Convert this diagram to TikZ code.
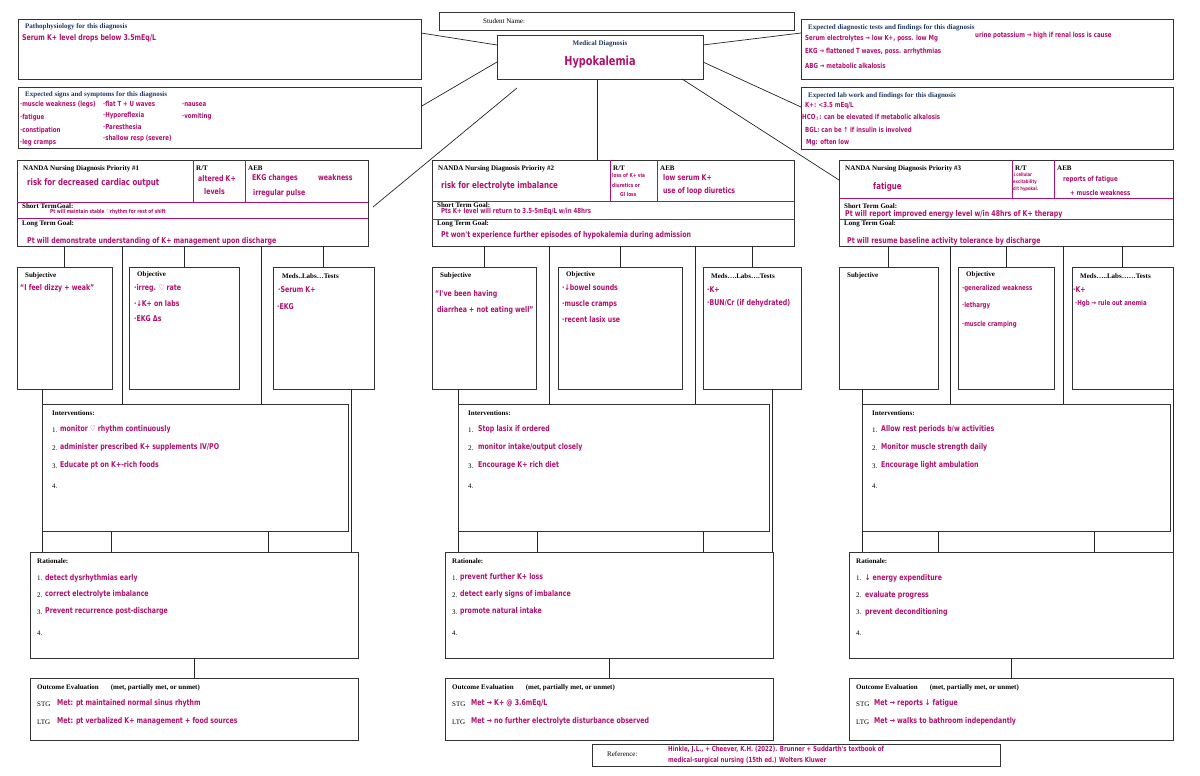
\documentclass[tikz,border=0pt]{standalone}
\usepackage{fontspec}
\setmainfont{Liberation Serif}
\newfontfamily\hand[FakeStretch=0.78]{DejaVu Sans}
\newcommand\hrt{{\mdseries ♡}}
\definecolor{ink}{RGB}{176,16,110}
\definecolor{navy}{RGB}{31,56,100}
\begin{document}
\begin{tikzpicture}[x=1pt,y=-1pt,
 box/.style={draw=black!80,line width=.9pt,fill=white,anchor=north west,inner sep=0pt,outer sep=0pt},
 line/.style={draw=black!85,line width=.7pt},
 div/.style={draw=ink,line width=.9pt},
 lab/.style={font=\bfseries\fontsize{7}{8}\selectfont,anchor=west,inner sep=0pt},
 hd/.style={lab,text=navy},
 num/.style={font=\fontsize{7}{8}\selectfont,anchor=west,inner sep=0pt},
 hand/.style={font=\hand\bfseries\fontsize{8}{9}\selectfont,text=ink,anchor=west,inner sep=0pt},
 hands/.style={hand,font=\hand\bfseries\fontsize{7}{8}\selectfont},
 handt/.style={hand,font=\hand\bfseries\fontsize{5.5}{6}\selectfont}]
\useasboundingbox[fill=white] (0,0) rectangle (1200,776);

% top row
\node[box,minimum width=403,minimum height=60] (patho) at (18,19) {};
\node[box,minimum width=403,minimum height=61] (signs) at (18,87) {};
\node[box,minimum width=355,minimum height=18] (student) at (439,12) {};
\node[box,minimum width=206,minimum height=44] (md) at (497,35) {};
\node[box,minimum width=372,minimum height=60] (diag) at (801,19) {};
\node[box,minimum width=372,minimum height=62] (labs) at (801,87) {};

\node[num] (stname) at (483,21) {Student Name:};
\node[hd,anchor=center] (mdt) at (600,44) {Medical Diagnosis};
\node[hand,anchor=center,font=\hand\bfseries\fontsize{12.5}{14}\selectfont] (mdx) at (600,62) {Hypokalemia};

\node[hd] (pathot) at (25,27) {Pathophysiology for this diagnosis};
\node[hand] (patho1) at (22,38) {Serum K+ level drops below 3.5mEq/L};
\node[hd] (signst) at (25,95) {Expected signs and symptoms for this diagnosis};
\foreach \t [count=\i] in {{·muscle weakness (legs)},·fatigue,·constipation,{·leg cramps}}
  \node[hands] (sa\i) at (20,92+12.7*\i) {\t};
\foreach \t [count=\i] in {{·flat T + U waves},·Hyporeflexia,·Paresthesia,{·shallow resp (severe)}}
  \node[hands] (sb\i) at (103,93+11.3*\i) {\t};
\node[hands] (sc1) at (182,105) {·nausea};
\node[hands] (sc2) at (182,117) {·vomiting};

\node[hd] (diagt) at (808,28) {Expected diagnostic tests and findings for this diagnosis};
\node[hands] (dg1) at (805,39) {Serum electrolytes → low K+, poss. low Mg};
\node[hands] (dg2) at (805,52) {EKG → flattened T waves, poss. arrhythmias};
\node[hands] (dg3) at (805,66) {ABG → metabolic alkalosis};
\node[hands] (dg4) at (975,36) {urine potassium → high if renal loss is cause};
\node[hd] (labst) at (808,96) {Expected lab work and findings for this diagnosis};
\node[hands] (lb1) at (805,106) {K+: <3.5 mEq/L};
\node[hands] (lb2) at (802,117) {HCO$_3$: can be elevated if metabolic alkalosis};
\node[hands] (lb3) at (805,130) {BGL: can be ↑ if insulin is involved};
\node[hands] (lb4) at (806,143) {Mg: often low};

% NANDA boxes
\foreach \c/\x/\w/\rt/\ae/\da/\db in {1/17/351/193/245/202/218,2/432/362/610/657/201/219,3/839/334/1012/1054/198/219}{
  \node[box,minimum width=\w,minimum height=86] (n\c) at (\x,160) {};
  \draw[div] (\rt,160) -- (\rt,\da);
  \draw[div] (\ae,160) -- (\ae,\da);
  \draw[div] (\x,\da) -- (\x+\w,\da);
  \draw[div] (\x,\db) -- (\x+\w,\db);
  \node[lab] (nt\c) at (\x+6,169) {NANDA Nursing Diagnosis Priority \#\c};
  \node[lab] (rt\c) at (\rt+3,168) {R/T};
  \node[lab] (aeb\c) at (\ae+3,168) {AEB};
  \node[lab] (lg\c) at (\x+5,224) {Long Term Goal:};
}
\node[lab] (sg1) at (22,206) {Short TermGoal:};
\node[lab] (sg2) at (437,205) {Short Term Goal:};
\node[lab] (sg3) at (844,206) {Short Term Goal:};

\draw[line] ([shift={(0,10)}]md.north west) -- ([shift={(0,-16)}]patho.east);
\draw[line] ([shift={(0,-17)}]md.south west) -- ([shift={(0,-11)}]signs.east);
\draw[line] ([shift={(0,10)}]md.north east) -- ([shift={(0,-16)}]diag.west);
\draw[line] ([shift={(0,-17)}]md.south east) -- ([shift={(0,-11)}]labs.west);
\draw[line] ([shift={(20,9)}]md.south west) -- ([shift={(5,4)}]n1.east);
\draw[line] ([shift={(-3,0)}]md.south) -- ([shift={(-3,0)}]md.south |- n2.north);
\draw[line] ([shift={(-21,0)}]md.south east) -- ([shift={(0,-23)}]n3.west);

\node[hand,font=\hand\bfseries\fontsize{9}{10}\selectfont] (dx1) at (27,183) {risk for decreased cardiac output};
\node[hand] (rt1a) at (198,179) {altered K+};
\node[hand] (rt1b) at (204,192) {levels};
\node[hand] (ae1a) at (252,178) {EKG changes};
\node[hand] (ae1b) at (318,178) {weakness};
\node[hand] (ae1c) at (253,193) {irregular pulse};
\node[handt] (st1) at (50,212) {Pt will maintain stable \hrt rhythm for rest of shift};
\node[hand] (lt1) at (27,241) {Pt will demonstrate understanding of K+ management upon discharge};

\node[hand,font=\hand\bfseries\fontsize{9}{10}\selectfont] (dx2) at (441,186) {risk for electrolyte imbalance};
\node[handt] (rt2a) at (612,175) {loss of K+ via};
\node[handt] (rt2b) at (612,185) {diuretics or};
\node[handt] (rt2c) at (620,194) {GI loss};
\node[hand] (ae2a) at (663,178) {low serum K+};
\node[hand] (ae2b) at (663,191) {use of loop diuretics};
\node[hands] (st2) at (441,212) {Pts K+ level will return to 3.5-5mEq/L w/in 48hrs};
\node[hand] (lt2) at (441,235) {Pt won't experience further episodes of hypokalemia during admission};

\node[hand,font=\hand\bfseries\fontsize{9}{10}\selectfont] (dx3) at (873,187) {fatigue};
\node[handt,font=\hand\bfseries\fontsize{4.8}{5}\selectfont] (rt3a) at (1013,175) {↓cellular};
\node[handt,font=\hand\bfseries\fontsize{4.8}{5}\selectfont] (rt3b) at (1013,182) {excitability};
\node[handt,font=\hand\bfseries\fontsize{4.8}{5}\selectfont] (rt3c) at (1013,189) {d/t hypokal.};
\node[hands] (ae3a) at (1063,180) {reports of fatigue};
\node[hands] (ae3b) at (1070,193) {+ muscle weakness};
\node[hand] (st3) at (845,214) {Pt will report improved energy level w/in 48hrs of K+ therapy};
\node[hand] (lt3) at (847,241) {Pt will resume baseline activity tolerance by discharge};

% subjective / objective / meds
\foreach \c/\sx/\sw/\ox/\ow/\mx/\mw in {1/17/95/129/110/273/101,2/432/104/558/124/703/98,3/839/99/958/96/1072/101}{
  \node[box,minimum width=\sw,minimum height=122] (s\c) at (\sx,267) {};
  \node[box,minimum width=\ow,minimum height=122] (o\c) at (\ox,267) {};
  \node[box,minimum width=\mw,minimum height=122] (m\c) at (\mx,267) {};
  \draw[line] (s\c.north) -- (s\c.north |- n\c.south);
  \draw[line] (o\c.north) -- (o\c.north |- n\c.south);
  \draw[line] (m\c.north) -- (m\c.north |- n\c.south);
  \node[lab] (sl\c) at (\sx+8,276) {Subjective};
  \node[lab] (ol\c) at (\ox+8,275) {Objective};
}
\node[lab] (ml1) at (282,276) {Meds..Labs…Tests};
\node[lab] (ml2) at (711,276) {Meds….Labs….Tests};
\node[lab] (ml3) at (1080,276) {Meds…..Labs……Tests};

\node[hand] (sj1) at (20,288) {“I feel dizzy + weak”};
\node[hand] (ob1a) at (134,288) {·irreg. \hrt\ rate};
\node[hand] (ob1b) at (134,304) {·↓K+ on labs};
\node[hand] (ob1c) at (134,319) {·EKG Δs};
\node[hand] (md1a) at (278,290) {·Serum K+};
\node[hand] (md1b) at (277,307) {·EKG};

\node[hand] (sj2a) at (435,294) {“I've been having};
\node[hand] (sj2b) at (437,310) {diarrhea + not eating well”};
\node[hand] (ob2a) at (562,288) {·↓bowel sounds};
\node[hand] (ob2b) at (562,304) {·muscle cramps};
\node[hand] (ob2c) at (562,320) {·recent lasix use};
\node[hand] (md2a) at (707,290) {·K+};
\node[hand] (md2b) at (707,303) {·BUN/Cr (if dehydrated)};

\node[hands] (ob3a) at (962,289) {·generalized weakness};
\node[hands] (ob3b) at (962,306) {·lethargy};
\node[hands] (ob3c) at (962,325) {·muscle cramping};
\node[hand] (md3a) at (1073,290) {·K+};
\node[hands] (md3b) at (1075,304) {·Hgb → rule out anemia};

% interventions, rationale, outcome
\foreach \c/\ix/\iw/\rx/\rw/\a/\b/\p/\q in {1/42/306/30/328/122/261/111/268,2/458/311/445/328/549/695/537/703,3/862/308/849/324/950/1063/938/1094}{
  \node[box,minimum width=\iw,minimum height=127] (i\c) at (\ix,404) {};
  \node[box,minimum width=\rw,minimum height=106] (r\c) at (\rx,552) {};
  \node[box,minimum width=\rw,minimum height=62] (e\c) at (\rx,678) {};
  \draw[line] (n\c.south -| \a,0) -- (i\c.north -| \a,0);
  \draw[line] (n\c.south -| \b,0) -- (i\c.north -| \b,0);
  \draw[line] (i\c.north west |- s\c.south) -- (i\c.north west);
  \draw[line] ([xshift=3]i\c.north east |- m\c.south) -- ([xshift=3]i\c.south east |- r\c.north);
  \draw[line] (i\c.south west) -- (i\c.south west |- r\c.north);
  \draw[line] (i\c.south -| \p,0) -- (r\c.north -| \p,0);
  \draw[line] (i\c.south -| \q,0) -- (r\c.north -| \q,0);
  \draw[line] (r\c.south) -- (e\c.north);
  \node[lab] (il\c) at (\ix+10,413) {Interventions:};
  \node[lab] (rl\c) at (\rx+7,561) {Rationale:};
  \node[lab] (el\c) at (\rx+7,688) {Outcome Evaluation\hspace{12pt}(met, partially met, or unmet)};
  \foreach \k/\y in {1/430,2/448,3/466,4/486}
    \node[num] (in\c-\k) at (\ix+10,\y) {\k.};
  \foreach \k/\y in {1/578,2/595,3/612,4/633}
    \node[num] (rn\c-\k) at (\rx+7,\y) {\k.};
  \node[num] (stg\c) at (\rx+7,704) {STG};
  \node[num] (ltg\c) at (\rx+7,722) {LTG};
}

\node[hand] (iv1a) at (60,429) {monitor \hrt\ rhythm continuously};
\node[hand] (iv1b) at (60,447) {administer prescribed K+ supplements IV/PO};
\node[hand] (iv1c) at (60,465) {Educate pt on K+-rich foods};
\node[hand] (iv2a) at (478,429) {Stop lasix if ordered};
\node[hand] (iv2b) at (478,447) {monitor intake/output closely};
\node[hand] (iv2c) at (478,465) {Encourage K+ rich diet};
\node[hand] (iv3a) at (881,429) {Allow rest periods b/w activities};
\node[hand] (iv3b) at (881,447) {Monitor muscle strength daily};
\node[hand] (iv3c) at (881,465) {Encourage light ambulation};

\node[hand] (ra1a) at (45,578) {detect dysrhythmias early};
\node[hand] (ra1b) at (45,594) {correct electrolyte imbalance};
\node[hand] (ra1c) at (45,611) {Prevent recurrence post-discharge};
\node[hand] (ra2a) at (460,577) {prevent further K+ loss};
\node[hand] (ra2b) at (460,594) {detect early signs of imbalance};
\node[hand] (ra2c) at (460,611) {promote natural intake};
\node[hand] (ra3a) at (865,578) {↓ energy expenditure};
\node[hand] (ra3b) at (865,595) {evaluate progress};
\node[hand] (ra3c) at (865,612) {prevent deconditioning};

\node[hand] (oe1a) at (57,703) {Met: pt maintained normal sinus rhythm};
\node[hand] (oe1b) at (57,721) {Met: pt verbalized K+ management + food sources};
\node[hand] (oe2a) at (471,703) {Met → K+ @ 3.6mEq/L};
\node[hand] (oe2b) at (471,721) {Met → no further electrolyte disturbance observed};
\node[hand] (oe3a) at (874,703) {Met → reports ↓ fatigue};
\node[hand] (oe3b) at (874,721) {Met → walks to bathroom independantly};

% reference
\node[box,minimum width=408,minimum height=22] (ref) at (592,744) {};
\node[num] (refl) at (607,754) {Reference:};
\node[hands] (ref1) at (668,750) {Hinkle, J.L., + Cheever, K.H. (2022). Brunner + Suddarth's textbook of};
\node[hands] (ref2) at (668,761) {medical-surgical nursing (15th ed.) Wolters Kluwer};
\end{tikzpicture}
\end{document}
